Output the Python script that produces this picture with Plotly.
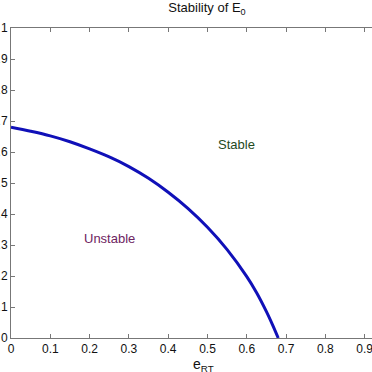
import plotly.graph_objects as go

# boundary curve (stability threshold)
e_rt = [0.0, 0.05, 0.1, 0.15, 0.2, 0.25, 0.3, 0.35, 0.4, 0.45, 0.5, 0.55, 0.6, 0.625, 0.65, 0.665, 0.68]
boundary = [0.68, 0.667, 0.652, 0.633, 0.610, 0.584, 0.553, 0.515, 0.470, 0.418, 0.357, 0.285, 0.198, 0.146, 0.085, 0.044, 0.0]

x_ticks = [0, 0.1, 0.2, 0.3, 0.4, 0.5, 0.6, 0.7, 0.8, 0.9, 1.0]
x_tick_labels = ["0", "0.1", "0.2", "0.3", "0.4", "0.5", "0.6", "0.7", "0.8", "0.9", "1"]
y_ticks = [0, 0.1, 0.2, 0.3, 0.4, 0.5, 0.6, 0.7, 0.8, 0.9, 1.0]
y_tick_labels = ["0", "0.1", "0.2", "0.3", "0.4", "0.5", "0.6", "0.7", "0.8", "0.9", "1"]

region_labels = ["Stable", "Unstable"]
region_x = [0.575, 0.25]
region_y = [0.623, 0.322]
region_colors = ["#1f4a22", "#6e2461"]

FONT = "Liberation Sans, Arial, sans-serif"

fig = go.Figure()
fig.add_trace(go.Scatter(x=e_rt, y=boundary, mode="lines",
                         line=dict(color="#1010b8", width=3, shape="spline", smoothing=1.0),
                         showlegend=False, hoverinfo="skip"))

for t, x, y, c in zip(region_labels, region_x, region_y, region_colors):
    fig.add_annotation(x=x, y=y, text=t, showarrow=False,
                       font=dict(family=FONT, size=13, color=c))

# x-axis label
fig.add_annotation(x=0.489, xref="x", y=-0.052, yref="paper", yanchor="top",
                   text="e<sub>RT</sub>", showarrow=False,
                   font=dict(family=FONT, size=14, color="#111111"))

axis_common = dict(showgrid=False, zeroline=False, showline=True, linecolor="#777777",
                   linewidth=1, ticks="inside", ticklen=4, tickcolor="#777777",
                   tickfont=dict(family=FONT, size=12, color="#111111"),
                   ticklabeloverflow="allow", automargin=False)

fig.update_layout(
    width=372, height=372,
    margin=dict(l=11, r=0, t=28, b=34),
    plot_bgcolor="white", paper_bgcolor="white",
    title=dict(text="Stability of E<sub>0</sub>", x=207 / 372, xanchor="center",
               yref="container", y=1 - 3 / 372, yanchor="top",
               font=dict(family=FONT, size=13, color="#111111")),
    xaxis=dict(range=[0, 0.9186], tickvals=x_ticks, ticktext=x_tick_labels,
               mirror="ticks", **axis_common),
    yaxis=dict(range=[0, 1], tickvals=y_ticks, ticktext=y_tick_labels,
               mirror=False, **axis_common),
)

fig.write_html("out.html", config={"displayModeBar": False},
               post_script="document.body.style.margin='0';document.body.style.overflow='hidden';")
